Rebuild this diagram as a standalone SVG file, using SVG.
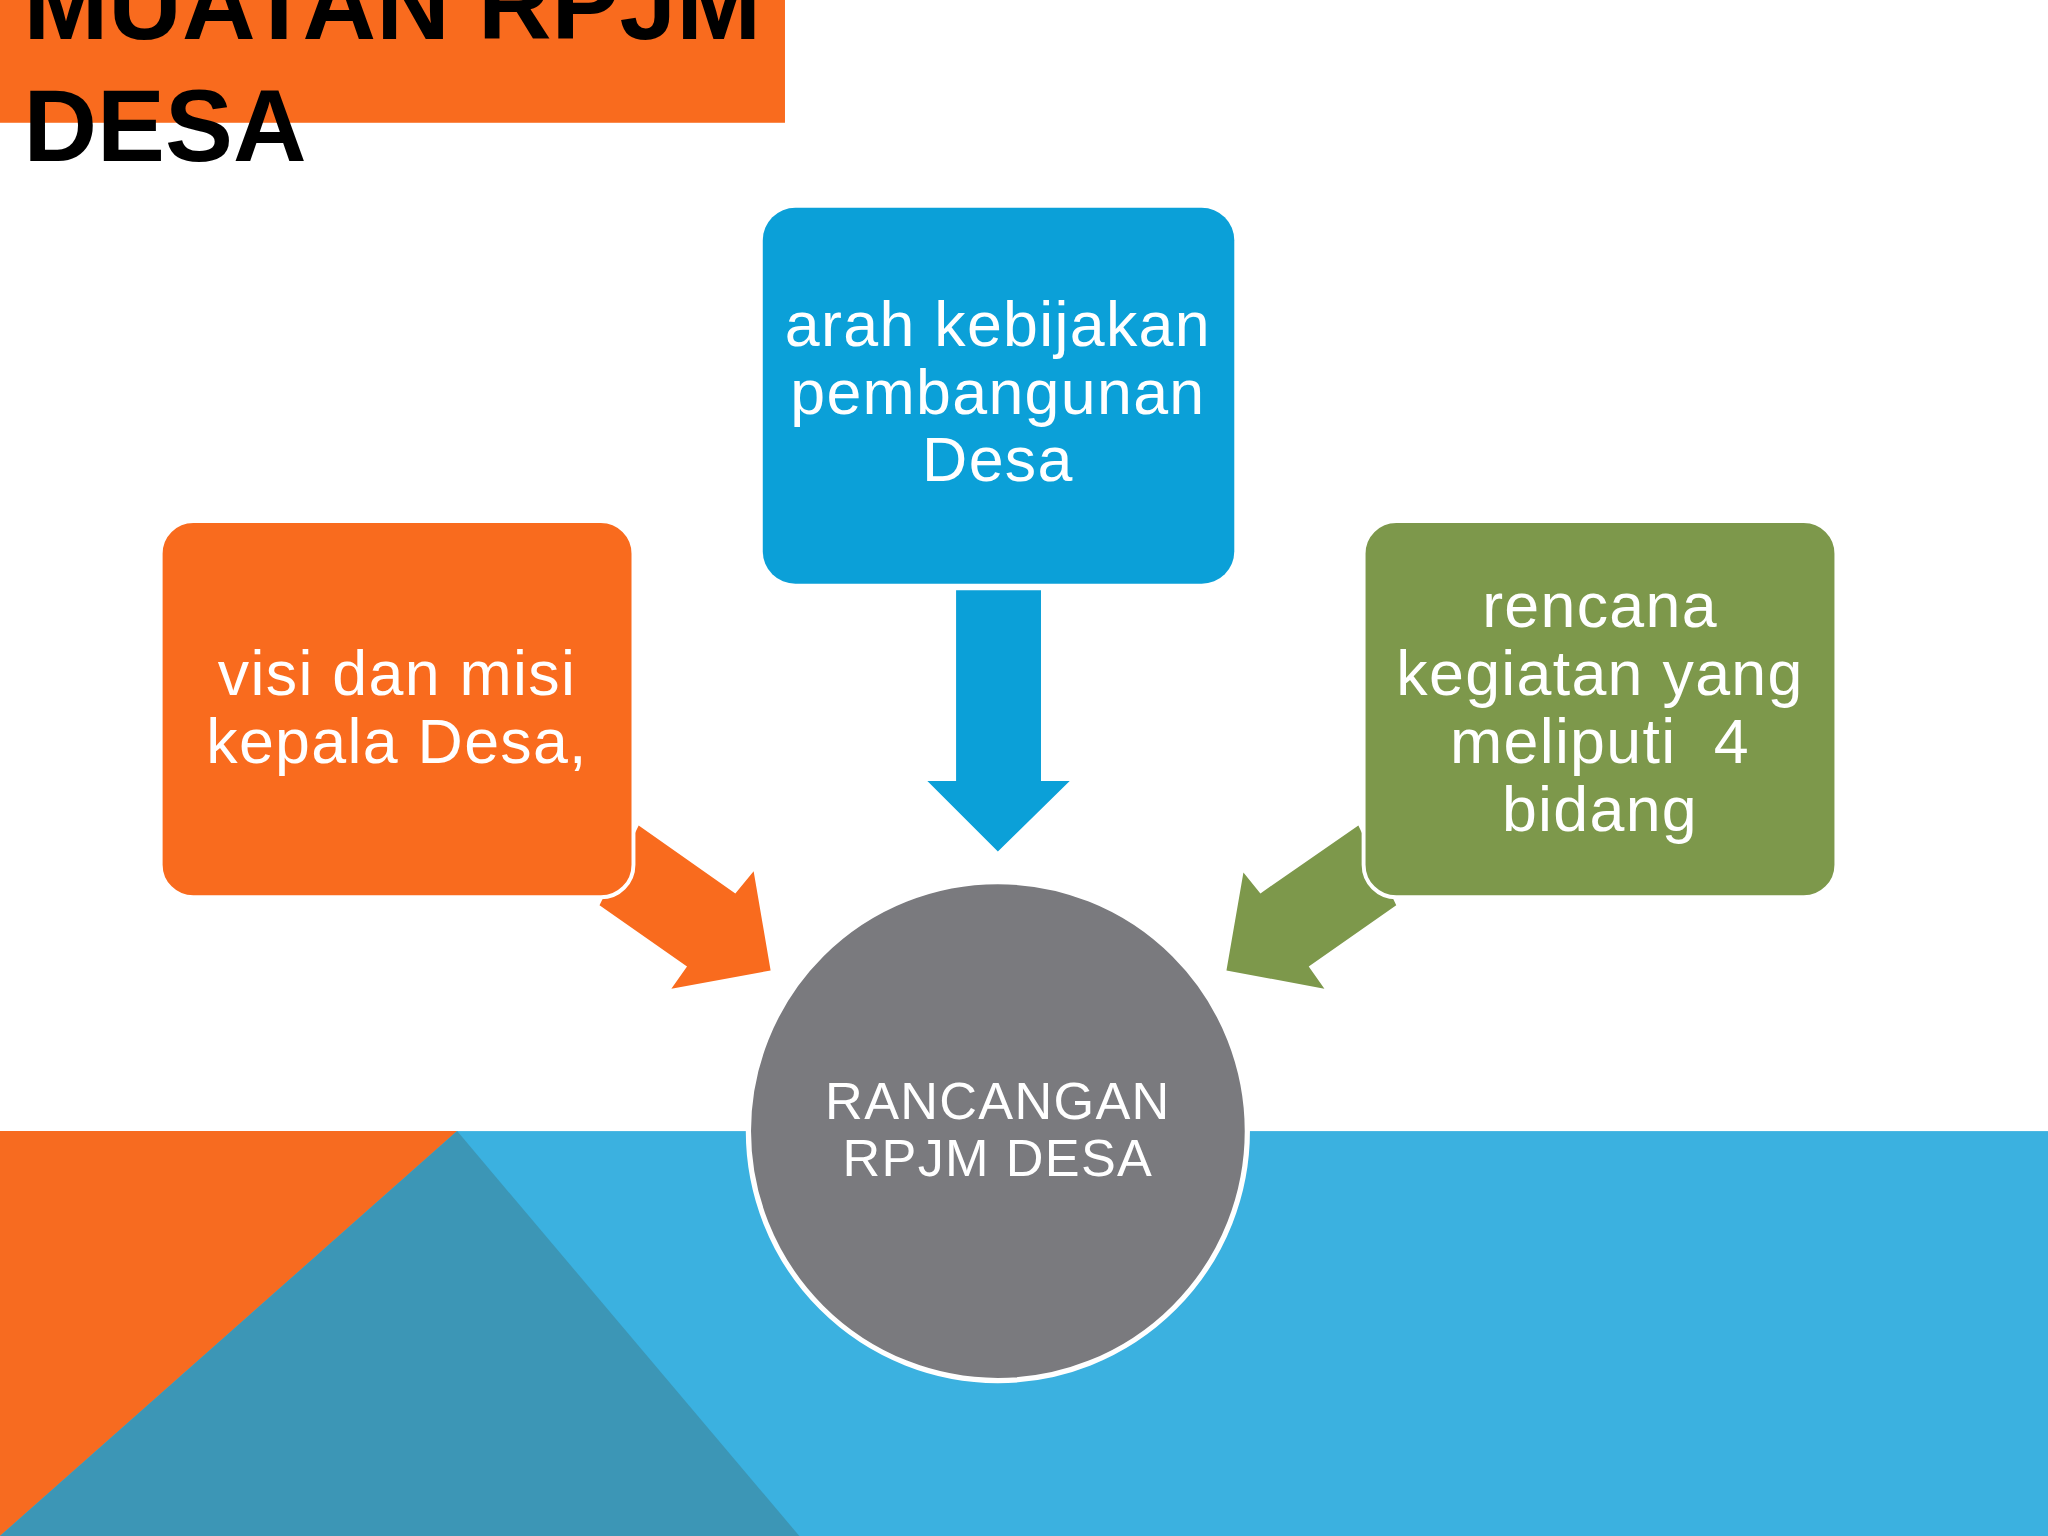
<svg xmlns="http://www.w3.org/2000/svg" width="2048" height="1536" viewBox="0 0 2048 1536">
<style>
.t{font-family:"Liberation Sans",Arial,sans-serif;fill:#fff;text-anchor:middle;letter-spacing:1px}
.b{font-size:48px}
.h{font-family:"Liberation Sans",Arial,sans-serif;font-weight:bold;font-size:78px;fill:#000}
</style>
<rect width="2048" height="1536" fill="#fff"/>
<g transform="scale(1.30612)">
<g id="background">
<rect x="0" y="866" width="1568" height="310" fill="#3BB1E0"/>
<polygon points="0,866 350,866 0,1176" fill="#F76B20"/>
<polygon points="350,866 612,1176 0,1176" fill="#3C96B6"/>
<rect x="0" y="0" width="601" height="94" fill="#F96B1E"/>
<text class="h" x="18" y="30">MUATAN RPJM</text>
<text class="h" x="18" y="123">DESA</text>
</g>
<g id="connectors">
<polygon points="732,452 797,452 797,598 819,598 764,652 710,598 732,598" fill="#0BA0D8"/>
<polygon points="489,632 563,684 577,667 590,743 514,757 526,740 459,693" fill="#F96B1E"/>
<polygon points="1040,632 965,684 952,668 939,743 1014,757 1002,740 1069,693" fill="#7D984B"/>
</g>
<g id="node-arah">
<rect x="584" y="159" width="361" height="288" rx="25" fill="#0BA0D8"/>
<text class="t b" x="764" y="265">arah kebijakan</text>
<text class="t b" x="764" y="317">pembangunan</text>
<text class="t b" x="764" y="368">Desa</text>
</g>
<g id="node-visi">
<rect x="123" y="399" width="362" height="288" rx="25" fill="#F96B1E" stroke="#fff" stroke-width="3"/>
<text class="t b" x="304" y="532">visi dan misi</text>
<text class="t b" x="304" y="584">kepala Desa,</text>
</g>
<g id="node-rencana">
<rect x="1044" y="399" width="362" height="288" rx="25" fill="#7D984B" stroke="#fff" stroke-width="3"/>
<text class="t b" x="1225" y="480">rencana</text>
<text class="t b" x="1225" y="532">kegiatan yang</text>
<text class="t b" x="1225" y="584" xml:space="preserve">meliputi  4</text>
<text class="t b" x="1225" y="636">bidang</text>
</g>
<g id="node-rancangan">
<circle cx="764" cy="866" r="191" fill="#7A7A7E" stroke="#fff" stroke-width="4"/>
<text class="t" font-size="40" x="764" y="857">RANCANGAN</text>
<text class="t" font-size="40" x="764" y="900">RPJM DESA</text>
</g>
</g>
</svg>
